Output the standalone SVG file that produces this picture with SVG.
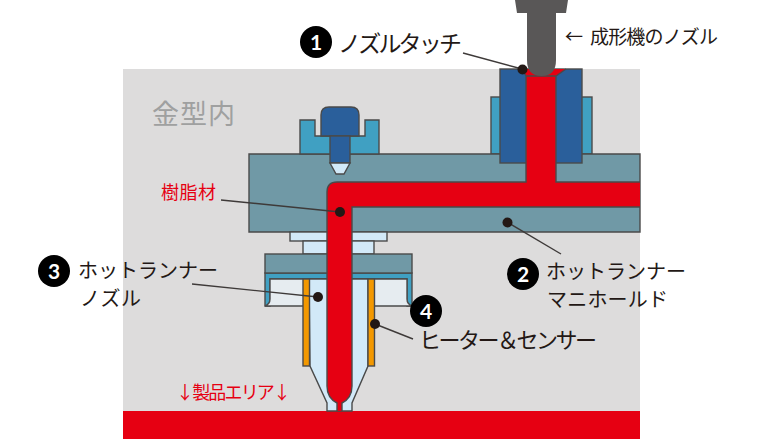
<svg xmlns="http://www.w3.org/2000/svg" width="768" height="439" viewBox="0 0 768 439">
<style>
.s{stroke:#4a4a4a;stroke-width:1.4}
.teal{fill:#7099a6}.lb{fill:#d2e9f8}.bl{fill:#40a0c2}.db{fill:#2a5f9b}.or{fill:#f39800}.red{fill:#e60012}
.t{font-family:"Noto Sans CJK JP","Noto Sans",sans-serif;fill:#231815}
.n{font-family:"Lato","Liberation Sans",sans-serif;font-weight:700;fill:#fff;font-size:21px;text-anchor:middle}
.l{stroke:#3e3a39;stroke-width:1.4;fill:none}
.d{fill:#231815}
</style>
<rect width="768" height="439" fill="#fff"/>
<g id="mold">
<rect x="123" y="69" width="517" height="342" fill="#dddcdc"/>
<rect x="123" y="411" width="517" height="28" class="red"/>
</g>
<g id="machine-nozzle-collar">
<rect x="491" y="97" width="101" height="57" class="bl s"/>
<path d="M249 154H640V232H249Z" class="teal s"/>
<rect x="500" y="69" width="82" height="94" class="db s"/>
</g>
<g id="bolt">
<path d="M300 154V120H315V136H365V120H379V154Z" class="bl s"/>
<path d="M321 136V115Q321 107 329 107H351Q359 107 359 115V136Z" class="db s"/>
<rect x="330" y="136" width="20" height="27" class="db s"/>
<path d="M330 163H350L344 174H336Z" class="lb s"/>
</g>
<g id="nozzle">
<rect x="290" y="232" width="97" height="9" class="lb s"/>
<rect x="303" y="241" width="71" height="13" class="lb s"/>
<path d="M265 306V273H412V306H407V279H270V306Z" class="bl s"/>
<path d="M270 279H407V299Q407 304 412 306H265Q270 304 270 299Z" fill="#e6ecf0" class="s"/>
<rect x="265" y="254" width="147" height="19" class="teal s"/>
<path d="M309 279H368V366L352 403V411H327V403L310 366Z" class="lb s"/>
<rect x="303" y="279" width="6.500" height="87" class="or s"/>
<rect x="368" y="279" width="6.500" height="87" class="or s"/>
</g>
<g id="resin">
<path d="M522 69H566L556 76V182H640V207H352V386Q352 398 342 403V411H337V403Q327 398 327 386V192Q327 182 337 182H526V76Z" class="red"/>
<path d="M522 69L526 76H556L566 69M556 76V182H640M526 76V182H337Q327 182 327 192V386Q327 398 337 403V411M342 411V403Q352 398 352 386V207H640" fill="none" class="s"/>
</g>
<g id="injection-nozzle">
<path d="M515 0H568L566 13H556V60Q556 76 541.500 76Q527 76 527 60V13H517Z" fill="#595757"/>
</g>
<g id="connectors">
<path class="l" d="M463 53L522 69"/>
<path class="l" d="M507 222L561 254"/>
<path class="l" d="M221 200L340 212"/>
<path class="l" d="M192 284L318 297"/>
<path class="l" d="M375 324L413 339"/>
<circle class="d" cx="522.500" cy="69.500" r="5"/>
<circle class="d" cx="507.500" cy="222.500" r="5"/>
<circle class="d" cx="340" cy="212" r="5"/>
<circle class="d" cx="318" cy="297" r="5"/>
<circle class="d" cx="375" cy="324" r="5"/>
</g>
<g id="label-1">
<circle cx="316" cy="42" r="16"/>
<text class="n" x="316" y="50">1</text>
<text class="t" x="338" y="52" font-size="23" textLength="124">ノズルタッチ</text>
</g>
<g id="label-machine">
<text class="t" x="565" y="43" font-size="18">←</text>
<text class="t" x="590" y="44" font-size="19" textLength="128">成形機のノズル</text>
</g>
<g id="label-mold">
<text x="152" y="124" font-size="27" textLength="83" class="t" style="fill:#9fa0a0">金型内</text>
</g>
<g id="label-resin">
<text x="161" y="199" font-size="18" textLength="55" class="t" style="fill:#e60012">樹脂材</text>
</g>
<g id="label-2">
<circle cx="523" cy="274" r="16"/>
<text class="n" x="523" y="282">2</text>
<text class="t" font-size="20"><tspan x="546" y="279" textLength="140">ホットランナー</tspan><tspan x="547" y="307" textLength="121">マニホールド</tspan></text>
</g>
<g id="label-3">
<circle cx="54" cy="271" r="16"/>
<text class="n" x="54" y="279">3</text>
<text class="t" font-size="20"><tspan x="78" y="278" textLength="140">ホットランナー</tspan><tspan x="80" y="306" textLength="61">ノズル</tspan></text>
</g>
<g id="label-4">
<circle cx="426" cy="311" r="16"/>
<text class="n" x="426" y="319">4</text>
<text class="t" x="419" y="348" font-size="22" textLength="178">ヒーター＆センサー</text>
</g>
<g id="label-product">
<text x="176" y="399" font-size="18" textLength="115" class="t" style="fill:#e60012">↓製品エリア↓</text>
</g>
</svg>
